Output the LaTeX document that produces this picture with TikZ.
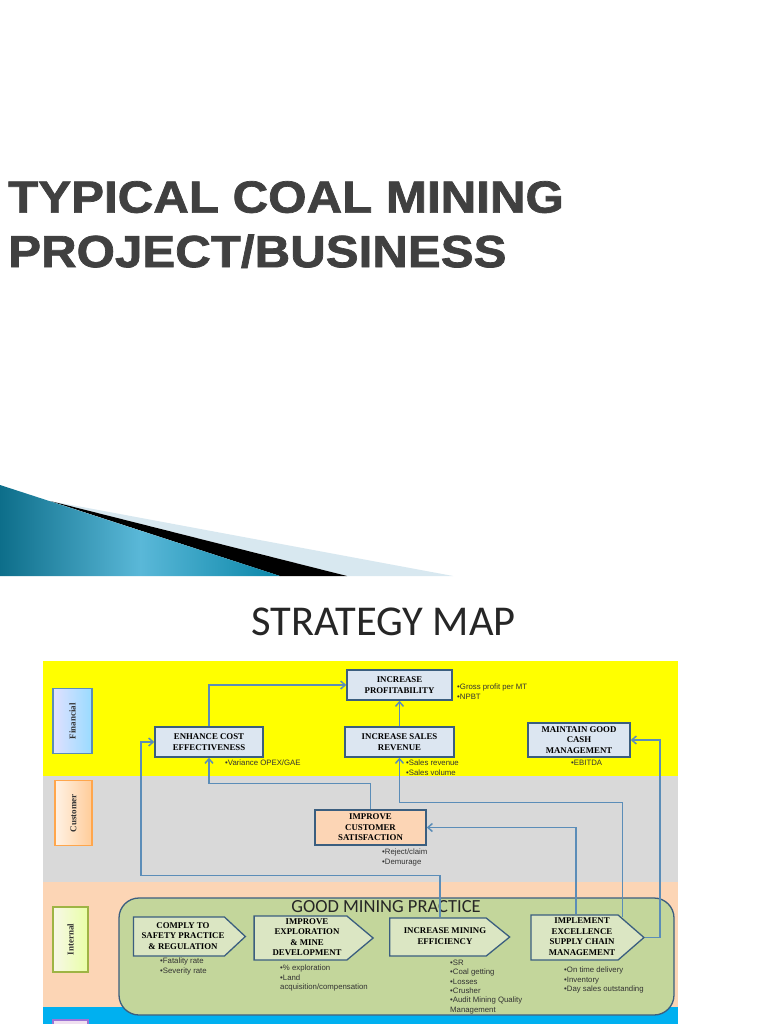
\documentclass[tikz,border=0pt]{standalone}
\usepackage{fontspec}
\setmainfont{Liberation Serif}
\setsansfont{Liberation Sans}
\newfontfamily\slidefont{Carlito}
\newfontfamily\titlefont[UprightFont=* Bold,FakeStretch=1.095,FakeBold=1.6]{Liberation Sans}
\usetikzlibrary{shapes.symbols,arrows.meta,positioning}
\definecolor{bandyellow}{HTML}{FFFF00}
\definecolor{bandgray}{HTML}{D9D9D9}
\definecolor{bandpeach}{HTML}{FCD5B5}
\definecolor{bandblue}{HTML}{00B0F0}
\definecolor{linkblue}{HTML}{5B8DB8}
\definecolor{boxedge}{HTML}{3B5E7F}
\definecolor{boxfill}{HTML}{DCE6F1}
\definecolor{gmpfill}{HTML}{C3D69B}
\definecolor{titlegray}{HTML}{404040}
\definecolor{tealdark}{HTML}{0D6E8A}
\definecolor{tealmid}{HTML}{5AB8D8}
\definecolor{tealend}{HTML}{0A86A8}
\definecolor{wedgelight}{HTML}{D8E8F0}
\newcommand{\steptext}[2]{\hspace*{#1}\begin{tabular}{@{}c@{}}#2\end{tabular}}
\tikzset{
	goalbox/.style={draw=boxedge, line width=1.5pt, fill=boxfill, align=center, inner sep=0pt, font=\fontsize{8.8}{10.5}\selectfont\bfseries},
	stepshape/.style={goalbox, shape=signal, signal to=east, fill=gmpfill!60!white, line width=1.3pt},
	note/.style={anchor=north west, align=left, inner sep=0pt, text=black!80, font=\sffamily\fontsize{7.8}{9.3}\selectfont},
	link/.style={-{Straight Barb[length=4.5pt,width=8pt]}, draw=linkblue, line width=1.5pt},
	sidebox/.style={line width=1.8pt, inner sep=0pt, minimum width=37pt, minimum height=65pt, font=\fontsize{9}{10}\selectfont\bfseries, text=black!80},
}
\begin{document}
\begin{tikzpicture}[x=1pt, y=-1pt]
	\useasboundingbox (0,0) rectangle (768,1024);
	\fill[white] (0,0) rectangle (768,1024);
	% first slide
	\node[anchor=north west, inner sep=0pt, align=left, text=titlegray, font=\titlefont\fontsize{45}{54.5}\selectfont] (title) at (8,181) {TYPICAL COAL MINING\\PROJECT/BUSINESS};
	\fill[wedgelight] (50,501) -- (453,576) -- (347,576) -- cycle;
	\fill[black] (50,501) -- (347,576) -- (280,576) -- cycle;
	\shade[left color=tealdark, right color=tealend, middle color=tealmid] (0,485) -- (280,576) -- (0,576) -- cycle;
	% second slide
	\node[font=\slidefont\fontsize{42.5}{46}\selectfont, text=black!85] (map) at (383.5,622) {STRATEGY MAP};
	\fill[bandyellow] (43,661) rectangle (678,776);
	\fill[bandgray] (43,776) rectangle (678,882);
	\fill[bandpeach] (43,882) rectangle (678,1007);
	\fill[bandblue] (43,1007) rectangle (678,1024);
	\node[sidebox, draw=linkblue, left color=blue!12!white, right color=blue!35!cyan!40!white, minimum width=39pt] (financial) at (72.5,721) {\rotatebox{90}{Financial}};
	\node[sidebox, draw=orange!70!white, left color=orange!10!white, right color=orange!40!white] (customer) at (73.5,813) {\rotatebox{90}{Customer}};
	\node[sidebox, draw=olive!70!green!70!white, left color=olive!6!white, right color=green!25!yellow!35!white, minimum width=35pt] (internal) at (70.5,939.5) {\rotatebox{90}{Internal}};
	\fill[violet!12!white, draw=blue!40!violet!55!white, line width=1.5pt] (53,1020) rectangle (88,1026);
	\draw[boxedge, fill=gmpfill, line width=1.3pt, rounded corners=20pt] (119,898) rectangle (674,1015);
	\node[font=\slidefont\fontsize{18.5}{20}\selectfont, text=black!85] (gmp) at (386,907) {GOOD MINING PRACTICE};
	% goals
	\node[goalbox, minimum width=105pt, minimum height=30pt] (profit) at (399.5,685) {INCREASE\\PROFITABILITY};
	\node[goalbox, minimum width=108pt, minimum height=30pt] (enhance) at (209,742) {ENHANCE COST\\EFFECTIVENESS};
	\node[goalbox, minimum width=109pt, minimum height=30pt] (sales) at (399.5,742) {INCREASE SALES\\REVENUE};
	\node[goalbox, minimum width=102pt, minimum height=34pt] (cash) at (579,740) {MAINTAIN GOOD\\CASH\\MANAGEMENT};
	\node[goalbox, fill=bandpeach, minimum width=111pt, minimum height=35pt] (satisfy) at (370.5,827.5) {IMPROVE\\CUSTOMER\\SATISFACTION};
	% steps
	\node[stepshape, signal pointer angle=86, minimum width=110pt, minimum height=39pt] (comply) at (179,936.5) {\steptext{8pt}{COMPLY TO\\SAFETY PRACTICE\\\& REGULATION}};
	\node[stepshape, signal pointer angle=80, minimum width=119pt, minimum height=44pt] (explore) at (300.5,938) {\steptext{13pt}{IMPROVE\\EXPLORATION\\\& MINE\\DEVELOPMENT}};
	\node[stepshape, signal pointer angle=78, minimum width=116pt, minimum height=38pt] (mining) at (438,937) {\steptext{14pt}{INCREASE MINING\\EFFICIENCY}};
	\node[stepshape, signal pointer angle=82, minimum width=113pt, minimum height=45pt] (supply) at (574.5,937.5) {\steptext{15pt}{IMPLEMENT\\EXCELLENCE\\SUPPLY CHAIN\\MANAGEMENT}};
	% measures
	\node[note] (n1) at (457,684) {•Gross profit per MT\\•NPBT};
	\node[note] (n2) at (225,760) {•Variance OPEX/GAE};
	\node[note] (n3) at (406,760) {•Sales revenue\\•Sales volume};
	\node[note] (n4) at (571,760) {•EBITDA};
	\node[note] (n5) at (382,849) {•Reject/claim\\•Demurage};
	\node[note] (n6) at (160,958) {•Fatality rate\\•Severity rate};
	\node[note] (n7) at (280,965) {•\% exploration\\•Land\\acquisition/compensation};
	\node[note] (n8) at (450,960) {•SR\\•Coal getting\\•Losses\\•Crusher\\•Audit Mining Quality\\Management};
	\node[note] (n9) at (564,967) {•On time delivery\\•Inventory\\•Day sales outstanding};
	% links
	\draw[link] (enhance.north) |- (profit.west);
	\draw[link] (sales.north) -- (profit.south);
	\draw[link] (satisfy.north) -- ++(0,-26) -| (enhance.south);
	\draw[link] ([xshift=2pt]mining.north) -- ++(0,-42) -- ++(-299,0) |- (enhance.west);
	\draw[link] ([xshift=1.5pt]supply.north) |- (satisfy.east);
	\draw[link] ([xshift=48pt,yshift=-3pt]supply.north) -- ++(0,-115) -| (sales.south);
	\draw[link] (supply.east) -- ++(15,0) |- (cash.east);
\end{tikzpicture}
\end{document}
